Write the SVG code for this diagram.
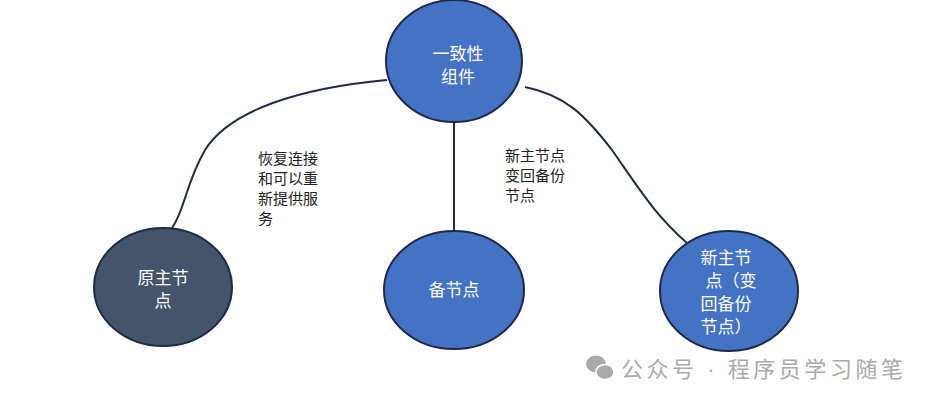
<svg xmlns="http://www.w3.org/2000/svg" width="934" height="404" viewBox="0 0 934 404">
<style>
.n{fill:#4472c4;stroke:#1f2a44;stroke-width:2}
.d{fill:#44546a;stroke:#1f2a44;stroke-width:2}
.t{font-family:"Liberation Sans","Noto Sans CJK SC",sans-serif;font-size:17px;fill:#fff;text-anchor:middle}
.l{font-family:"Liberation Sans","Noto Sans CJK SC",sans-serif;font-size:15px;fill:#222}
.c{fill:none;stroke:#1f2a44;stroke-width:2}
</style>
<rect width="934" height="404" fill="#fff"/>
<g id="connectors">
<path class="c" d="M387,80 C300,88 230,110 205,150 C185,185 185,210 172,228"/>
<path class="c" d="M454,122 L454,230"/>
<path class="c" d="M525,87 C565,95 585,115 612,150 C640,190 655,215 687,243"/>
</g>
<g id="n-top"><ellipse class="n" cx="454" cy="61" rx="68" ry="61"/>
<text class="t" x="458" y="60">一致性</text><text class="t" x="458" y="83">组件</text></g>
<g id="n-left"><ellipse class="d" cx="163" cy="287" rx="69" ry="59"/>
<text class="t" x="163" y="284">原主节</text><text class="t" x="163" y="307">点</text></g>
<g id="n-mid"><ellipse class="n" cx="454" cy="290" rx="70" ry="59"/>
<text class="t" x="454" y="296">备节点</text></g>
<g id="n-right"><ellipse class="n" cx="729" cy="291" rx="69" ry="60"/>
<text class="t" x="726" y="264">新主节</text><text class="t" x="731" y="287">点（变</text><text class="t" x="726" y="310">回备份</text><text class="t" x="726" y="333">节点）</text></g>
<g id="labels">
<text class="l" x="258" y="164">恢复连接</text><text class="l" x="258" y="184">和可以重</text><text class="l" x="258" y="204">新提供服</text><text class="l" x="258" y="224">务</text>
<text class="l" x="505" y="161">新主节点</text><text class="l" x="505" y="181">变回备份</text><text class="l" x="505" y="201">节点</text>
</g>
<g id="watermark" fill="#aaa">
<ellipse cx="596" cy="364" rx="10" ry="8.5"/><ellipse cx="605" cy="372" rx="9" ry="7.5" stroke="#fff" stroke-width="1.5"/>
<text x="621" y="377" font-family="Liberation Sans,'Noto Sans CJK SC',sans-serif" font-size="22" fill="#aaa" textLength="282">公众号 · 程序员学习随笔</text>
</g>
</svg>
